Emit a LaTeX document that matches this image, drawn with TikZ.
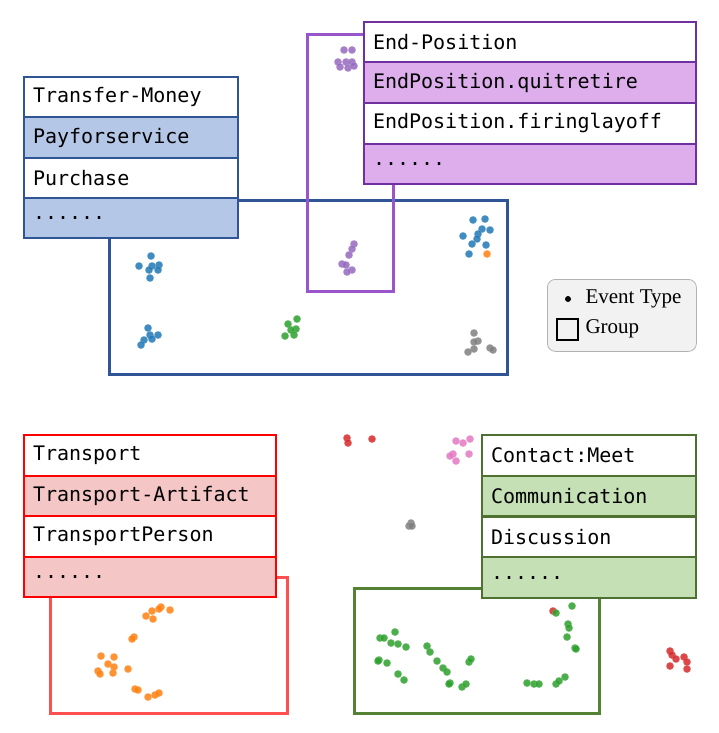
\documentclass[tikz,border=0pt]{standalone}
\usepackage{fontspec}
\setmainfont{Liberation Serif}
\setmonofont{DejaVu Sans Mono}
\newcommand\mysixdots{......}
\begin{document}
\begin{tikzpicture}[x=1pt,y=-1pt,
  row/.style={draw=#1,line width=2pt,anchor=north west,minimum height=40.5pt,inner xsep=9pt,font=\fontsize{20}{20}\ttfamily,align=left},
  grp/.style={draw=#1,line width=3pt},
  ev/.style={circle,inner sep=0pt,minimum size=7.5pt,fill=#1,fill opacity=0.85,draw=#1!60,draw opacity=0.5,line width=0.5pt}]
\definecolor{cb}{HTML}{1F77B4}\definecolor{co}{HTML}{FF7F0E}\definecolor{cg}{HTML}{2CA02C}
\definecolor{cr}{HTML}{D62728}\definecolor{cp}{HTML}{9467BD}\definecolor{ck}{HTML}{E377C2}\definecolor{cy}{HTML}{7F7F7F}
\definecolor{blueB}{HTML}{2F5597}\definecolor{blueF}{HTML}{B4C7E7}
\definecolor{purB}{HTML}{7030A0}\definecolor{purF}{HTML}{DDADEC}\definecolor{purG}{HTML}{9955CC}
\definecolor{redB}{HTML}{FF0000}\definecolor{redF}{HTML}{F4C6C6}\definecolor{redG}{HTML}{FF5050}
\definecolor{grnB}{HTML}{4E7030}\definecolor{grnF}{HTML}{C5E0B4}\definecolor{grnG}{HTML}{548235}
\useasboundingbox (0,0) rectangle (719,733);
% groups
\draw[grp=blueB] (109,200) rectangle (507,374);
\draw[grp=purG] (307,35) rectangle (393,291);
\draw[grp=redG] (50,577) rectangle (287,713);
\draw[grp=grnG] (354,588) rectangle (599,713);
% dots
\foreach \p in {(139,266),(151,256),(152,266),(159,265),(149,270),(158,270),(150,278),
 (148,328),(150,335),(158,335),(152,339),(144,340),(141,345),
 (473,220),(485,219),(482,229),(490,230),(463,236),(478,234),(477,239),(472,244),(486,245),(469,254)}
 \node[ev=cb] at \p {};
\node[ev=co] at (487,254) {};
\foreach \p in {(354,244),(352,249),(349,255),(342,264),(346,265),(352,270),(347,272),
 (344,50),(352,50),(338,62),(346,62),(352,62),(340,67),(348,68),(354,66)}
 \node[ev=cp] at \p {};
\foreach \p in {(288,324),(297,319),(296,329),(291,330),(285,336),(294,335)}
 \node[ev=cg] at \p {};
\foreach \p in {(474,333),(478,341),(474,342),(474,349),(468,352),(490,348),(493,350),(411,523),(409,526),(412,526)}
 \node[ev=cy] at \p {};
\foreach \p in {(347,438),(348,443),(372,439),(553,611),(670,651),(672,655),(676,659),(684,657),(687,662),(670,666),(687,669)}
 \node[ev=cr] at \p {};
\foreach \p in {(456,441),(463,443),(470,439),(453,454),(450,456),(469,454),(456,461)}
 \node[ev=ck] at \p {};
\foreach \p in {(146,616),(152,611),(153,619),(161,607),(170,610),(159,609),(134,637),(132,639),(101,656),(114,657),(108,664),(114,667),(128,669),(98,671),(100,674),(113,673),(135,689),(138,690),(148,697),(155,695),(159,693)}
 \node[ev=co] at \p {};
\foreach \p in {(380,638),(384,638),(395,632),(391,643),(398,644),(406,647),(379,660),(378,661),(387,663),(398,674),(404,680),(427,646),(430,652),(437,661),(443,668),(447,672),(450,683),(449,684),(462,687),(466,684),(469,662),(471,659),(527,683),(534,684),(539,684),(556,684),(559,681),(565,677),(556,613),(572,606),(568,624),(569,628),(567,637),(575,648),(576,649)}
 \node[ev=cg] at \p {};
% tables
\foreach \t/\f [count=\i from 0] in {Transfer-Money/white,Payforservice/blueF,Purchase/white,\mysixdots/blueF}
 \node[row=blueB,fill=\f,text width=196pt] (tm\i) at (23,76+40.3*\i) {\t};
\foreach \t/\f [count=\i from 0] in {End-Position/white,EndPosition.quitretire/purF,EndPosition.firinglayoff/white,\mysixdots/purF}
 \node[row=purB,fill=\f,text width=314pt] (ep\i) at (363,21+40.5*\i) {\t};
\foreach \t/\f [count=\i from 0] in {Transport/white,Transport-Artifact/redF,TransportPerson/white,\mysixdots/redF}
 \node[row=redB,fill=\f,text width=234pt] (tr\i) at (23,434+40.5*\i) {\t};
\foreach \t/\f [count=\i from 0] in {Contact:Meet/white,Communication/grnF,Discussion/white,\mysixdots/grnF}
 \node[row=grnB,fill=\f,text width=196pt] (cm\i) at (481,434+40.8*\i) {\t};
% legend
\node[draw=black!30,fill=black!5,rounded corners=8pt,line width=0.8pt,minimum width=149pt,minimum height=72pt,anchor=north west] (leg) at (547,279) {};
\node[circle,fill=black,inner sep=0pt,minimum size=6pt] (legdot) at (568,299) {};
\node[anchor=west,font=\fontsize{21}{21}\selectfont] (legt1) at (582,299) {Event Type};
\node[draw=black,line width=2pt,minimum size=21pt,inner sep=0pt] (legsq) at (567,329) {};
\node[anchor=west,font=\fontsize{21}{21}\selectfont] (legt2) at (582,329) {Group};
\end{tikzpicture}
\end{document}
